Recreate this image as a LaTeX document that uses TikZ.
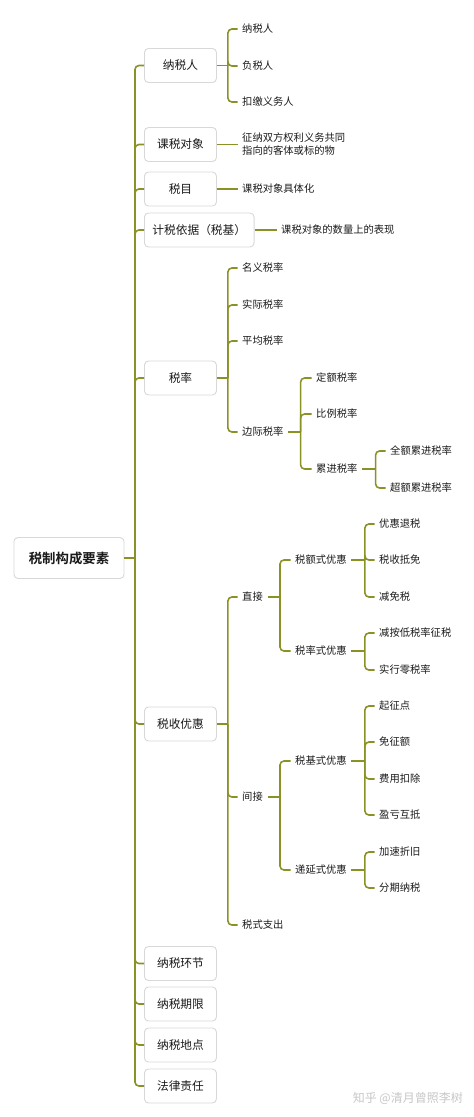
\documentclass[tikz,border=0pt]{standalone}
\usepackage{fontspec}
\newfontfamily\cjk{Noto Sans CJK SC}[BoldFont={Noto Sans CJK SC Bold}]
\definecolor{branchgreen}{RGB}{138,146,38}
\definecolor{boxgray}{RGB}{216,216,216}
\definecolor{textdark}{RGB}{26,26,26}
\tikzset{
  branch/.style={draw=branchgreen, line width=1.6pt, rounded corners=4pt},
  topic/.style={draw=boxgray, line width=0.9pt, rounded corners=4pt, fill=white,
    minimum width=72pt, minimum height=34pt, inner xsep=8pt, anchor=west,
    font=\cjk\fontsize{11.7}{14}\selectfont, text=textdark},
  leaf/.style={inner xsep=4.5pt, inner ysep=1pt, anchor=west,
    font=\cjk\fontsize{10.3}{13}\selectfont, text=textdark},
}
\begin{document}
\begin{tikzpicture}[x=1pt,y=-1pt]
        \useasboundingbox (0,0) rectangle (474,1117);
        \node[topic, anchor=center, minimum width=110pt, minimum height=41pt,
              font=\cjk\bfseries\fontsize{13.4}{16}\selectfont] (root) at (69,558) {税制构成要素};
        % first level
        \node[topic] (nsr) at (144,65.5) {纳税人};
        \node[topic] (kszx) at (144,144.5) {课税对象};
        \node[topic] (sm) at (144,189) {税目};
        \node[topic] (jsyj) at (144,230) {计税依据（税基）};
        \node[topic] (sl) at (144,378) {税率};
        \node[topic] (ssyh) at (144,724) {税收优惠};
        \node[topic] (nshj) at (144,963.5) {纳税环节};
        \node[topic] (nsqx) at (144,1004) {纳税期限};
        \node[topic] (nsdd) at (144,1045) {纳税地点};
        \node[topic] (flzr) at (144,1086) {法律责任};
        \draw[branch] (root.east) -- ++(10.5,0);
        \foreach \c in {nsr,kszx,sm,jsyj,sl,ssyh,nshj,nsqx,nsdd,flzr}
                \draw[branch] ([xshift=10.5pt]root.east) |- (\c.west);
        % 纳税人 ... 计税依据
        \node[leaf] (nsr1) at (237.5,29) {纳税人};
        \node[leaf] (nsr2) at (237.5,66) {负税人};
        \node[leaf] (nsr3) at (237.5,102) {扣缴义务人};
        \draw[branch] (nsr.east) -- ++(11,0);
        \foreach \c in {nsr1,nsr2,nsr3}
                \draw[branch] ([xshift=11pt]nsr.east) |- (\c.west);
        \node[leaf, align=left] (kszx1) at (237.5,144.5) {征纳双方权利义务共同\\指向的客体或标的物};
        \draw[branch] (kszx.east) -- (kszx1.west);
        \node[leaf] (sm1) at (237.5,189) {课税对象具体化};
        \draw[branch] (sm.east) -- (sm1.west);
        \node[leaf] (jsyj1) at (276.5,230) {课税对象的数量上的表现};
        \draw[branch] (jsyj.east) -- (jsyj1.west);
        % 税率
        \node[leaf] (sl1) at (237.5,268) {名义税率};
        \node[leaf] (sl2) at (237.5,305) {实际税率};
        \node[leaf] (sl3) at (237.5,341) {平均税率};
        \node[leaf] (sl4) at (237.5,432) {边际税率};
        \draw[branch] (sl.east) -- ++(11,0);
        \foreach \c in {sl1,sl2,sl3,sl4}
                \draw[branch] ([xshift=11pt]sl.east) |- (\c.west);
        \node[leaf] (bj1) at (311.5,378) {定额税率};
        \node[leaf] (bj2) at (311.5,414) {比例税率};
        \node[leaf] (bj3) at (311.5,469) {累进税率};
        \draw[branch] (sl4.east) -- ++(12.5,0);
        \foreach \c in {bj1,bj2,bj3}
                \draw[branch] ([xshift=12.5pt]sl4.east) |- (\c.west);
        \node[leaf] (lj1) at (385.5,451) {全额累进税率};
        \node[leaf] (lj2) at (385.5,488) {超额累进税率};
        \draw[branch] (bj3.east) -- ++(13.5,0);
        \foreach \c in {lj1,lj2}
                \draw[branch] ([xshift=13.5pt]bj3.east) |- (\c.west);
        % 税收优惠
        \node[leaf] (yh1) at (237.5,597) {直接};
        \node[leaf] (yh2) at (237.5,797) {间接};
        \node[leaf] (yh3) at (237.5,925) {税式支出};
        \draw[branch] (ssyh.east) -- ++(11,0);
        \foreach \c in {yh1,yh2,yh3}
                \draw[branch] ([xshift=11pt]ssyh.east) |- (\c.west);
        \node[leaf] (zj1) at (290.5,560) {税额式优惠};
        \node[leaf] (zj2) at (290.5,651) {税率式优惠};
        \draw[branch] (yh1.east) -- ++(12.5,0);
        \foreach \c in {zj1,zj2}
                \draw[branch] ([xshift=12.5pt]yh1.east) |- (\c.west);
        \node[leaf] (se1) at (374.5,524) {优惠退税};
        \node[leaf] (se2) at (374.5,560) {税收抵免};
        \node[leaf] (se3) at (374.5,597) {减免税};
        \draw[branch] (zj1.east) -- ++(13.5,0);
        \foreach \c in {se1,se2,se3}
                \draw[branch] ([xshift=13.5pt]zj1.east) |- (\c.west);
        \node[leaf] (sv1) at (374.5,633) {减按低税率征税};
        \node[leaf] (sv2) at (374.5,670) {实行零税率};
        \draw[branch] (zj2.east) -- ++(13.5,0);
        \foreach \c in {sv1,sv2}
                \draw[branch] ([xshift=13.5pt]zj2.east) |- (\c.west);
        \node[leaf] (jj1) at (290.5,761) {税基式优惠};
        \node[leaf] (jj2) at (290.5,870) {递延式优惠};
        \draw[branch] (yh2.east) -- ++(12.5,0);
        \foreach \c in {jj1,jj2}
                \draw[branch] ([xshift=12.5pt]yh2.east) |- (\c.west);
        \node[leaf] (sj1) at (374.5,706) {起征点};
        \node[leaf] (sj2) at (374.5,742) {免征额};
        \node[leaf] (sj3) at (374.5,779) {费用扣除};
        \node[leaf] (sj4) at (374.5,815) {盈亏互抵};
        \draw[branch] (jj1.east) -- ++(13.5,0);
        \foreach \c in {sj1,sj2,sj3,sj4}
                \draw[branch] ([xshift=13.5pt]jj1.east) |- (\c.west);
        \node[leaf] (dy1) at (374.5,852) {加速折旧};
        \node[leaf] (dy2) at (374.5,888) {分期纳税};
        \draw[branch] (jj2.east) -- ++(13.5,0);
        \foreach \c in {dy1,dy2}
                \draw[branch] ([xshift=13.5pt]jj2.east) |- (\c.west);
        \node[anchor=east, inner sep=0pt, text=gray!45, font=\cjk\fontsize{12}{14}\selectfont]
                (mark) at (463,1098) {知乎 @清月曾照李树};
\end{tikzpicture}
\end{document}
